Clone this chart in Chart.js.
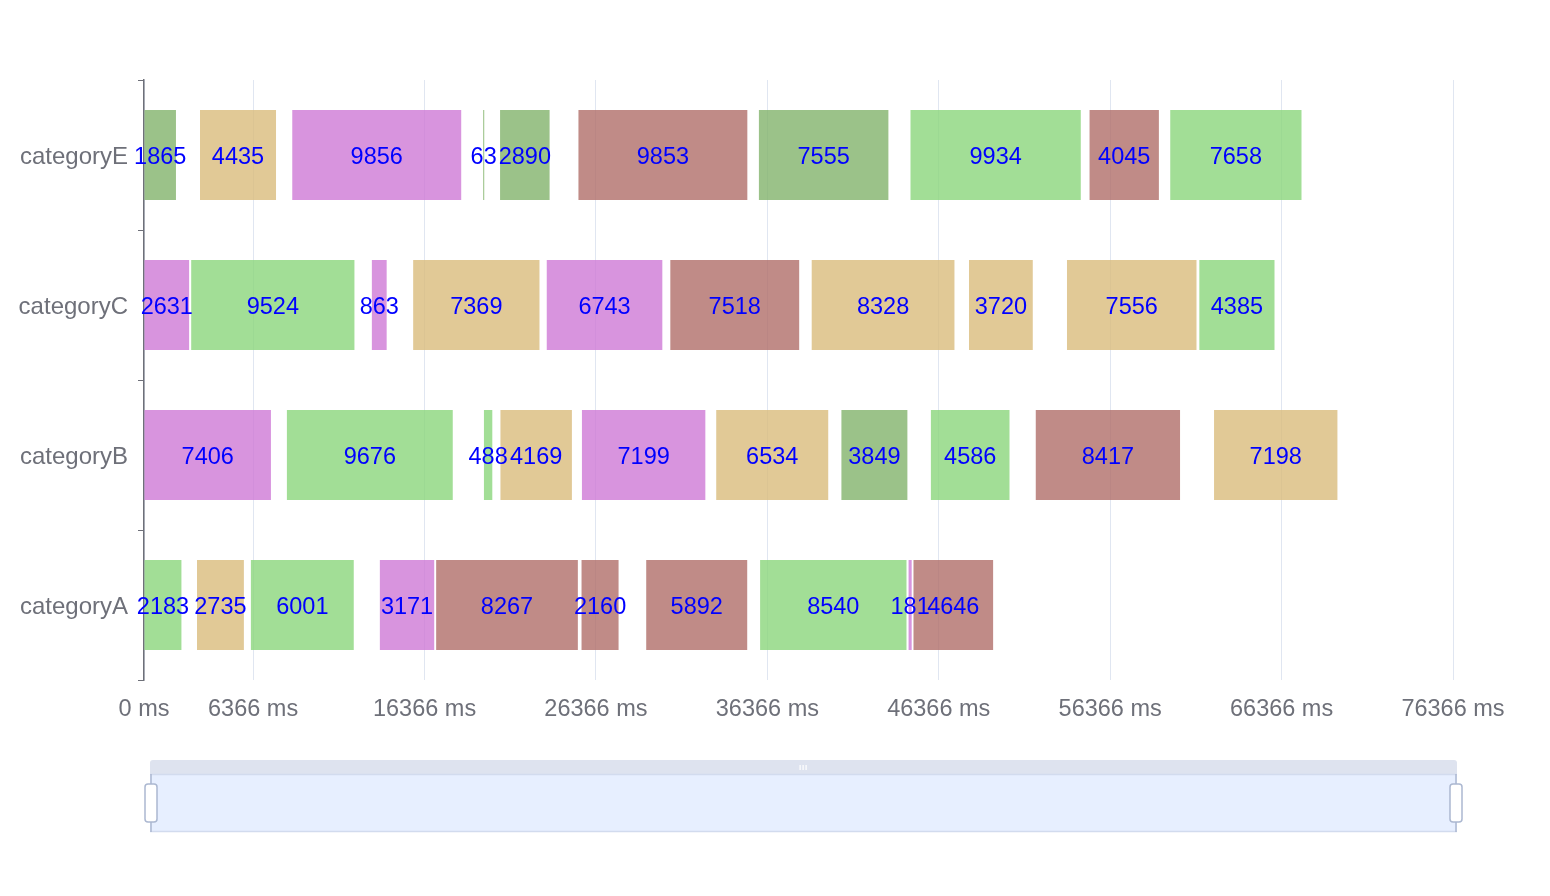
<!DOCTYPE html>
<html>
<head>
<meta charset="utf-8">
<script src="https://cdn.jsdelivr.net/npm/chart.js@4.4.1/dist/chart.umd.min.js"></script>
<style>
  html, body { margin: 0; padding: 0; background: #fff; }
  #wrap { width: 1550px; height: 896px; position: relative; }
</style>
</head>
<body>
<div id="wrap"><canvas id="chart"></canvas></div>
<script>
// rows, bottom to top
const categories = ['categoryA', 'categoryB', 'categoryC', 'categoryE'];

// x axis tick values (ms)
const xTicks = [0, 6366, 16366, 26366, 36366, 46366, 56366, 66366, 76366];

// start time (ms) / duration (ms) / type of every block, per row
const startsA = [0, 3092, 6236, 13760, 17044, 25526, 29299, 35943, 44605, 44891];
const durationsA = [2183, 2735, 6001, 3171, 8267, 2160, 5892, 8540, 181, 4646];
const typesA = ['Nodes', 'Listeners', 'Nodes', 'GPU Memory', 'Documents', 'Documents', 'Documents', 'Nodes', 'GPU Memory', 'Documents'];

const startsB = [0, 8336, 19832, 20795, 25549, 33383, 40686, 45907, 52025, 62425];
const durationsB = [7406, 9676, 488, 4169, 7199, 6534, 3849, 4586, 8417, 7198];
const typesB = ['GPU Memory', 'Nodes', 'Nodes', 'Listeners', 'GPU Memory', 'Listeners', 'GPU', 'Nodes', 'Documents', 'Listeners'];

const startsC = [0, 2753, 13294, 15703, 23496, 30705, 38953, 48130, 53846, 61568];
const durationsC = [2631, 9524, 863, 7369, 6743, 7518, 8328, 3720, 7556, 4385];
const typesC = ['GPU Memory', 'Nodes', 'GPU Memory', 'Listeners', 'GPU Memory', 'Documents', 'Listeners', 'Listeners', 'Listeners', 'Nodes'];

const startsE = [0, 3267, 8650, 19786, 20772, 25345, 35873, 44717, 55163, 59870];
const durationsE = [1865, 4435, 9856, 63, 2890, 9853, 7555, 9934, 4045, 7658];
const typesE = ['GPU', 'Listeners', 'GPU Memory', 'GPU', 'GPU', 'Documents', 'GPU', 'Nodes', 'Documents', 'Nodes'];

const typeColors = {
  'Nodes': 'rgba(139, 214, 124, 0.8)',
  'Listeners': 'rgba(217, 187, 124, 0.8)',
  'GPU Memory': 'rgba(206, 121, 214, 0.8)',
  'GPU': 'rgba(130, 179, 107, 0.8)',
  'Documents': 'rgba(176, 110, 105, 0.8)'
};

const rows = [
  { cat: 'categoryA', starts: startsA, durations: durationsA, types: typesA },
  { cat: 'categoryB', starts: startsB, durations: durationsB, types: typesB },
  { cat: 'categoryC', starts: startsC, durations: durationsC, types: typesC },
  { cat: 'categoryE', starts: startsE, durations: durationsE, types: typesE }
];

const points = [];
const colors = [];
rows.forEach(function (r) {
  r.starts.forEach(function (s, i) {
    points.push({ y: r.cat, x: [s, s + r.durations[i]], d: r.durations[i] });
    colors.push(typeColors[r.types[i]]);
  });
});

const FONT = 'Helvetica, "Liberation Sans", Arial, sans-serif';
Chart.defaults.font.family = FONT;
Chart.defaults.font.size = 23.5;
Chart.defaults.color = '#6E7079';

// duration text in the middle of each block
const barLabels = {
  id: 'barLabels',
  afterDatasetsDraw(chart) {
    const ctx = chart.ctx;
    const meta = chart.getDatasetMeta(0);
    ctx.save();
    ctx.font = '23.5px ' + FONT;
    ctx.fillStyle = '#0000ff';
    ctx.textAlign = 'center';
    ctx.textBaseline = 'middle';
    meta.data.forEach(function (el, i) {
      const p = chart.data.datasets[0].data[i];
      ctx.fillText(String(p.d), (el.x + el.base) / 2, el.y + 2.5);
    });
    ctx.restore();
  }
};

// the zoom slider under the chart (decoration only)
const slider = {
  id: 'slider',
  afterDraw(chart) {
    const ctx = chart.ctx;
    const l = 150, r = 1457, t = 760, m = 774, b = 832;
    ctx.save();
    // move handle bar
    ctx.fillStyle = '#dee3ef';
    ctx.beginPath();
    ctx.roundRect(l, t, r - l, m - t, [3, 3, 0, 0]);
    ctx.fill();
    // grip
    ctx.fillStyle = '#ffffff';
    for (let k = -1; k <= 1; k++) ctx.fillRect(803 + k * 3 - 0.5, 765, 1.2, 5);
    // filler
    ctx.fillStyle = 'rgba(135, 175, 255, 0.2)';
    ctx.fillRect(l, m, r - l, b - m);
    ctx.strokeStyle = '#d2dbee';
    ctx.lineWidth = 1.5;
    ctx.beginPath();
    ctx.moveTo(l, m + 0.5); ctx.lineTo(r, m + 0.5);
    ctx.moveTo(l, b - 0.5); ctx.lineTo(r, b - 0.5);
    ctx.stroke();
    // edges
    ctx.strokeStyle = '#acb8d1';
    ctx.lineWidth = 1.5;
    ctx.beginPath();
    ctx.moveTo(l + 1, m); ctx.lineTo(l + 1, b);
    ctx.moveTo(r - 1, m); ctx.lineTo(r - 1, b);
    ctx.stroke();
    // handles
    [l + 1, r - 1].forEach(function (x) {
      ctx.fillStyle = '#ffffff';
      ctx.strokeStyle = '#acb8d1';
      ctx.lineWidth = 1.5;
      ctx.beginPath();
      ctx.roundRect(x - 6, 784, 12, 38, 3);
      ctx.fill();
      ctx.stroke();
    });
    ctx.restore();
  }
};

new Chart(document.getElementById('chart'), {
  type: 'bar',
  data: {
    labels: categories,
    datasets: [{
      data: points,
      backgroundColor: colors,
      borderWidth: 0,
      barPercentage: 0.6,
      categoryPercentage: 1.0
    }]
  },
  options: {
    indexAxis: 'y',
    responsive: true,
    maintainAspectRatio: false,
    animation: false,
    layout: { padding: { left: 0, top: 80, right: 97, bottom: 0 } },
    plugins: {
      legend: { display: false },
      tooltip: { enabled: false },
      title: { display: false }
    },
    scales: {
      x: {
        type: 'linear',
        min: xTicks[0],
        max: xTicks[xTicks.length - 1],
        afterBuildTicks: function (scale) {
          scale.ticks = xTicks.map(function (v) { return { value: v }; });
        },
        afterFit: function (scale) { scale.height = 216; },
        grid: { color: '#E0E6F1', drawTicks: false, lineWidth: 1 },
        border: { display: false },
        ticks: {
          autoSkip: false,
          maxRotation: 0,
          padding: 15,
          color: '#6E7079',
          callback: function (v) { return v + ' ms'; }
        }
      },
      y: {
        type: 'category',
        reverse: true,
        afterFit: function (scale) { scale.width = 144; },
        grid: {
          drawOnChartArea: false,
          drawTicks: true,
          tickLength: 6,
          color: '#6E7079',
          lineWidth: 1
        },
        border: { display: true, color: '#6E7079', width: 1.5 },
        ticks: { padding: 10, color: '#6E7079', labelOffset: 2, font: { size: 24 } }
      }
    }
  },
  plugins: [barLabels, slider]
});
</script>
</body>
</html>
